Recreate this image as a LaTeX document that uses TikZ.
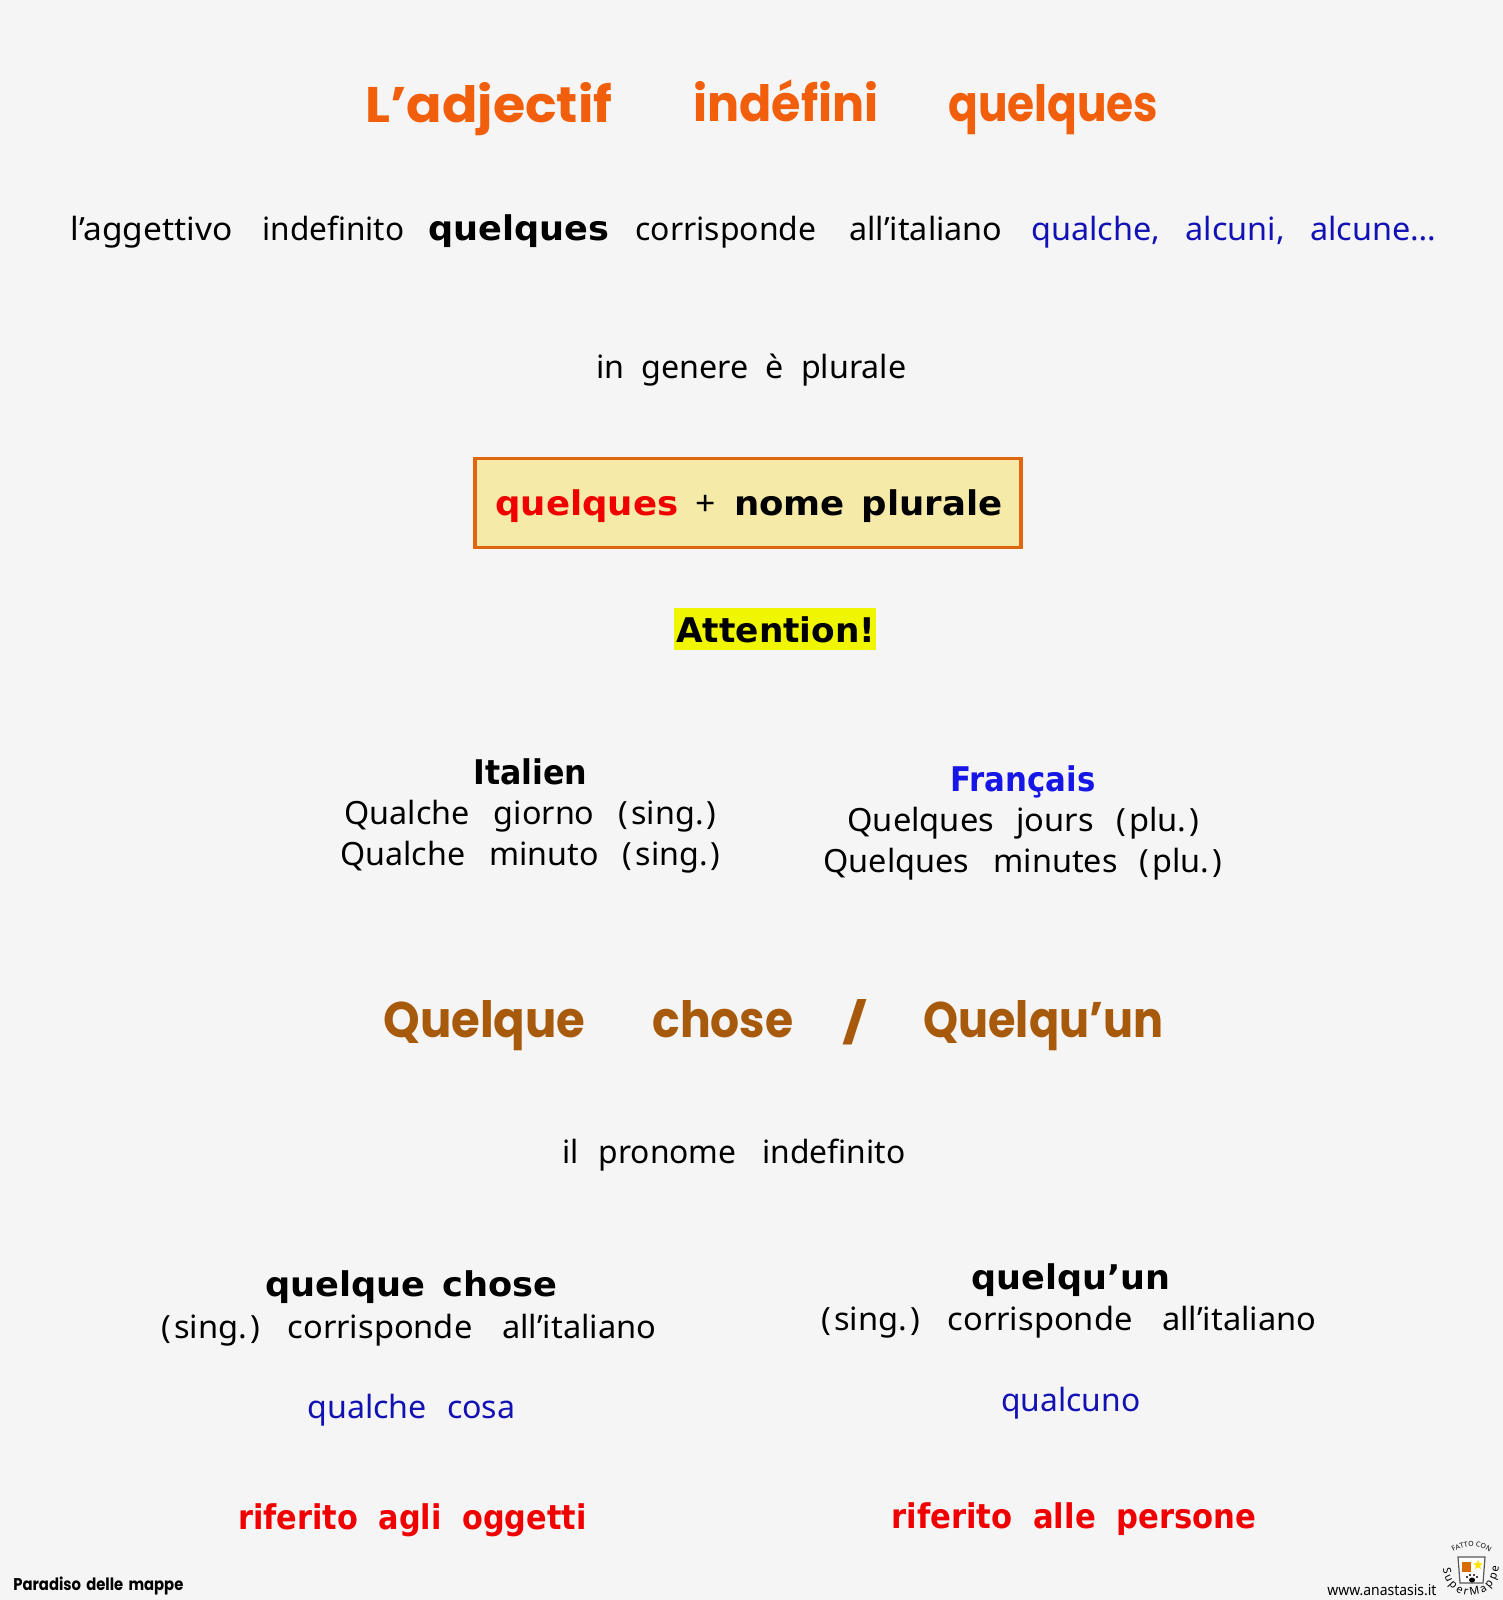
\documentclass[tikz,border=0pt]{standalone}
\usepackage{fontspec}
\usepackage{graphicx}
\usetikzlibrary{decorations.text,shapes.geometric}
\setmainfont{Noto Sans}
\newfontfamily\bfam{DejaVu Sans}[BoldFont={DejaVu Sans Bold}]
\newfontfamily\tfam{Poppins}
\definecolor{bgc}{HTML}{F6F5F5}
\definecolor{titleo}{HTML}{F25F0C}
\definecolor{titleb}{HTML}{A85A0C}
\definecolor{dblue}{HTML}{1212B4}
\definecolor{fblue}{HTML}{1616E6}
\definecolor{rred}{HTML}{F00000}
\definecolor{boxf}{HTML}{F5EAA8}
\definecolor{boxd}{HTML}{E0650F}
\definecolor{hilite}{HTML}{F0F500}
\tikzset{
  txt/.style={inner sep=0pt,anchor=base west,font=\fontsize{16}{19}\selectfont,text=black},
  bigb/.style={txt,font=\bfam\bfseries\fontsize{17}{20}\selectfont},
  toptitle/.style={txt,font=\tfam\bfseries\fontsize{25}{30}\selectfont},
  bluet/.style={txt,text=dblue},
  redt/.style={bigb,text=rred}
}
\newcommand{\lbl}[6]{\node[#5] (#1) at (#2,#4) {\resizebox{\dimexpr(#3pt-#2pt)/2\relax}{\height}{#6}};}
\newcommand{\gap}[1]{\hspace*{#1pt}}
% one word squeezed to a width given in picture pixels
\newcommand{\fitw}[2]{\resizebox{\dimexpr #1pt/2\relax}{\height}{#2}}
\newcommand{\sng}{(\gap{1.5}sing.\gap{1.5})}
\newcommand{\plu}{(\gap{1.5}plu.\gap{1.5})}
\begin{document}
\begin{tikzpicture}[x=.5pt,y=-.5pt]
\useasboundingbox (0,0) rectangle (1503,1600);
\fill[bgc] (0,0) rectangle (1503,1600);
\lbl{t1}{365}{1158}{122}{toptitle,text=titleo}{\fitw{247}{L’adjectif}\gap{40.5}\fitw{185}{indéfini}\gap{35}\fitw{210}{quelques}}
\lbl{l1a}{70}{404}{240}{txt}{\fitw{162}{l’aggettivo}\gap{15}\fitw{142}{indefinito}}
\lbl{l1b}{428}{609}{240}{bigb}{quelques}
\lbl{l1c}{635}{816}{240}{txt}{corrisponde}
\lbl{l1d}{849}{1002}{240}{txt}{all’italiano}
\lbl{l1e}{1031}{1436}{240}{bluet}{qualche,\gap{12.5}alcuni,\gap{12.5}alcune…}
\lbl{l2}{596}{906}{378}{txt}{in\gap{8.5}genere\gap{8.5}è\gap{8.5}plurale}
\node[draw=boxd,line width=1.6pt,fill=boxf,minimum width=273pt,minimum height=44.5pt,inner sep=0pt] (box) at (748,503) {};
\lbl{bx}{495}{1002}{515}{bigb}{\textcolor{rred}{quelques}\gap{8}{\fontspec{Noto Sans}+}\gap{9}nome\gap{8}plurale}
\node[fill=hilite,minimum width=101pt,minimum height=21pt,inner sep=0pt] (att) at (775,629) {};
\lbl{atx}{676}{875}{642}{bigb}{Attention!}
\lbl{it}{473}{587}{784}{bigb}{Italien}
\lbl{it1}{344}{716}{824}{txt}{Qualche\gap{12}giorno\gap{12}\sng}
\lbl{it2}{340}{720}{865}{txt}{Qualche\gap{12}minuto\gap{12}\sng}
\lbl{fr}{950}{1095}{791}{bigb,text=fblue}{Français}
\lbl{fr1}{847}{1199}{831}{txt}{Quelques\gap{11}jours\gap{11}\plu}
\lbl{fr2}{823}{1222}{872}{txt}{Quelques\gap{12}minutes\gap{11}\plu}
\lbl{t2}{383}{1163}{1037}{toptitle,text=titleb}{\fitw{202}{Quelque}\gap{33.5}\fitw{141}{chose}\gap{24.5}\fitw{25}{\fontsize{20}{24}\selectfont /}\gap{28}\fitw{240}{Quelqu’un}}
\lbl{pr}{562}{905}{1163}{txt}{il\gap{10}pronome\gap{13}indefinito}
\lbl{qc}{265}{557}{1296}{bigb}{quelque\gap{8}chose}
\lbl{qc1}{161}{656}{1338}{txt}{\sng\gap{13.5}corrisponde\gap{14.5}all’italiano}
\lbl{qc2}{307}{515}{1418}{bluet}{qualche\gap{10}cosa}
\lbl{qc3}{238}{586}{1529}{redt}{riferito\gap{11.5}agli\gap{11.5}oggetti}
\lbl{qu}{971}{1170}{1289}{bigb}{quelqu’un}
\lbl{qu1}{821}{1316}{1330}{txt}{\sng\gap{13.5}corrisponde\gap{14.5}all’italiano}
\lbl{qu2}{1001}{1140}{1411}{bluet}{qualcuno}
\lbl{qu3}{891}{1256}{1528}{redt}{riferito\gap{11.5}alle\gap{11.5}persone}
\lbl{pm}{13}{183}{1590}{txt,font=\tfam\bfseries\fontsize{8.5}{10}\selectfont}{Paradiso\gap{3}delle\gap{3}mappe}
\lbl{www}{1327}{1436}{1595}{txt,font=\fontsize{7.5}{9}\selectfont}{www.anastasis.it}
% logo
\draw[black!65,line width=.6pt,fill=white!90!bgc] (1458,1557) -- (1485,1557) -- (1483,1583) -- (1460,1583) -- cycle;
\fill[orange!85!black] (1462,1562) rectangle (1471,1572);
\node[star,star points=5,star point ratio=2.2,fill=yellow!85!orange,inner sep=0pt,minimum size=5pt] (logostar) at (1478,1565) {};
\fill[black] (1472,1580) ellipse (3 and 2.5);
\foreach \a/\b in {1467/1577,1470/1575,1474/1575,1477/1577}{\fill[black] (\a,\b) circle (1.2);}
\path[postaction={decorate,decoration={text along path,text align=center,text={|\bfseries\fontsize{3.5}{4}\selectfont|FATTO CON}}}] (1452,1553) .. controls (1464,1544) and (1480,1544) .. (1491,1553);
\path[postaction={decorate,decoration={text along path,text align={fit to path},text={|\fontsize{5.5}{7}\selectfont|SuperMappe}}}] (1443,1568) .. controls (1446,1605) and (1496,1605) .. (1499,1566);
\end{tikzpicture}
\end{document}
